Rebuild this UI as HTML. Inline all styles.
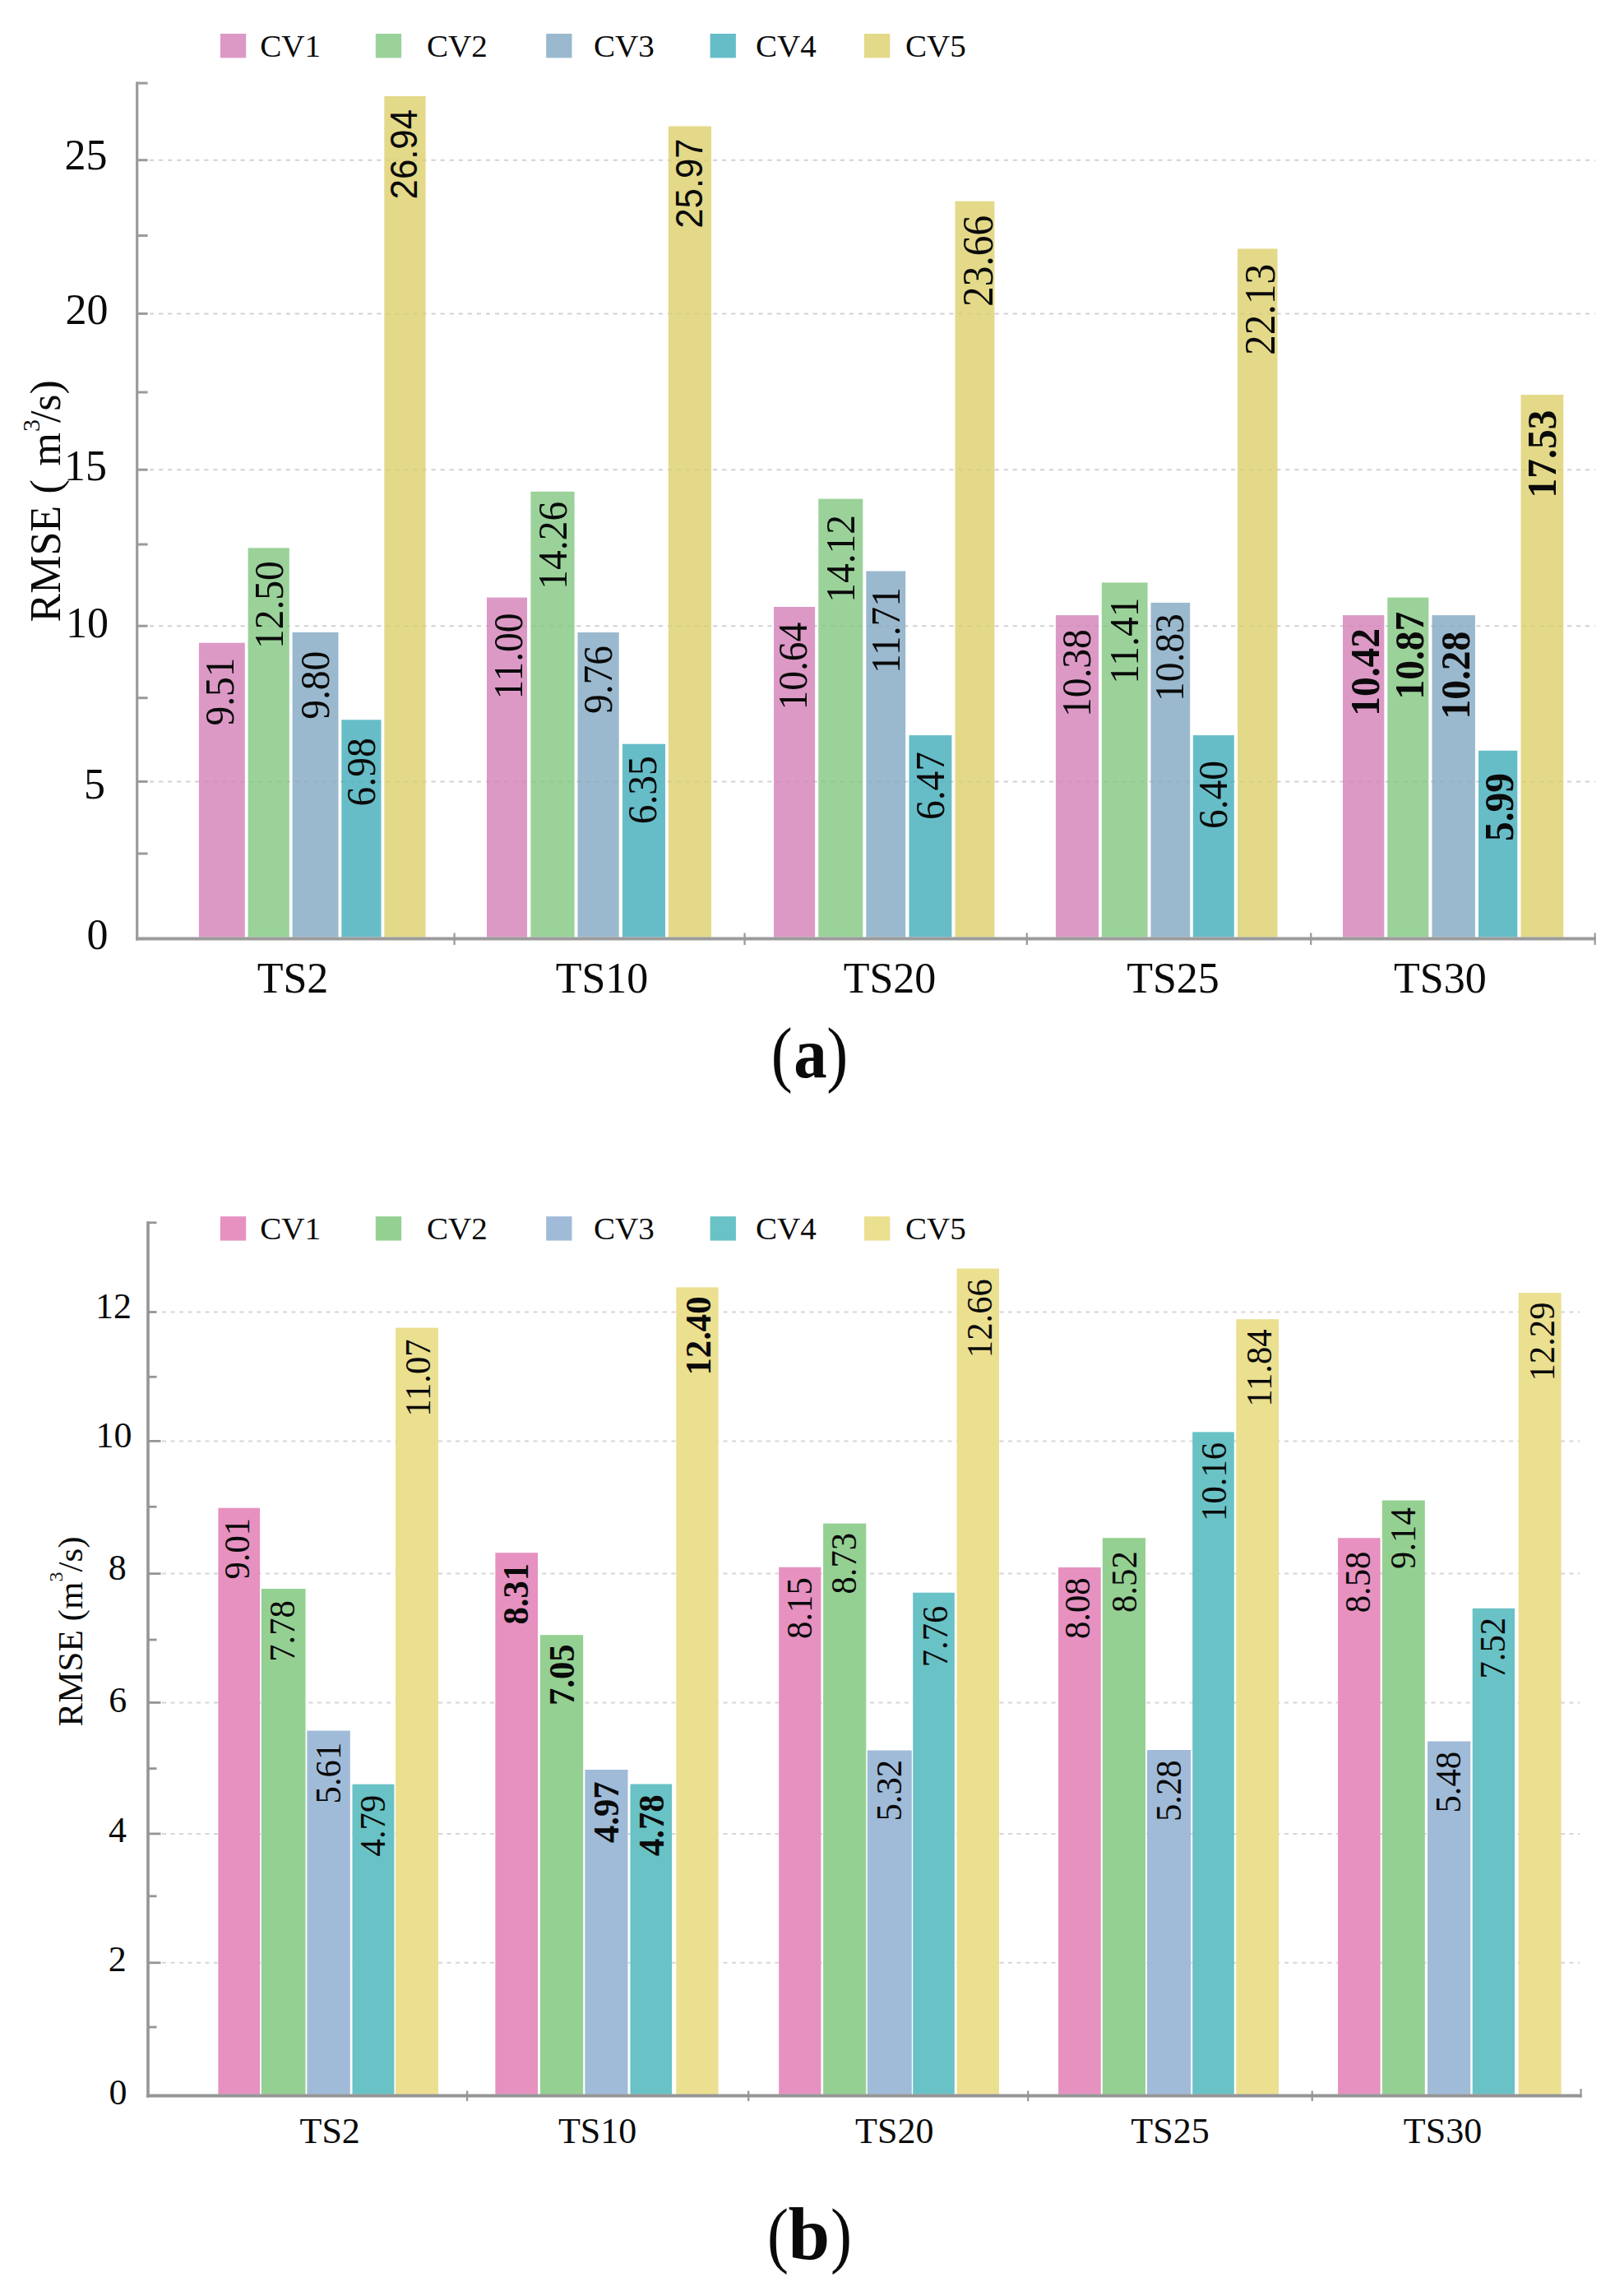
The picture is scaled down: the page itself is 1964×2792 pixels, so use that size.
<!DOCTYPE html>
<html lang="en"><head><meta charset="utf-8"><title>RMSE by cross-validation fold and time step</title>
<style>html,body{margin:0;padding:0;background:#fff}body{width:1964px;height:2792px;overflow:hidden}svg{display:block}text{font-family:"Liberation Serif", "Times New Roman", serif;fill:#0a0a0a}text.sans{font-family:"Liberation Sans", Arial, sans-serif}</style>
</head><body>
<svg width="1964" height="2792" viewBox="0 0 1964 2792">
<rect width="1964" height="2792" fill="#ffffff"/>
<g id="chart-a">
<g stroke="#dcdcdc" stroke-width="2" stroke-dasharray="5.2 5.85" fill="none">
<path d="M182 194.7 H1940"/>
<path d="M182 381.4 H1940"/>
<path d="M182 571.2 H1940"/>
<path d="M182 761.2 H1940"/>
<path d="M182 950.4 H1940"/>
</g>
<g>
<rect x="241.9" y="781.7" width="55.9" height="357.9" fill="#dc99c6"/>
<rect x="301.6" y="666.3" width="50.2" height="473.3" fill="#9bd29a"/>
<rect x="355.6" y="768.9" width="55.9" height="370.7" fill="#9ab9ce"/>
<rect x="415.3" y="875.3" width="48.2" height="264.3" fill="#66bdc8"/>
<rect x="467.3" y="117" width="50.3" height="1022.6" fill="#e3d989"/>
<rect x="592" y="726.6" width="49" height="413" fill="#dc99c6"/>
<rect x="645.4" y="597.8" width="53.2" height="541.8" fill="#9bd29a"/>
<rect x="702.5" y="769" width="50.2" height="370.6" fill="#9ab9ce"/>
<rect x="757" y="904.7" width="52" height="234.9" fill="#66bdc8"/>
<rect x="812.9" y="153.5" width="52.1" height="986.1" fill="#e3d989"/>
<rect x="941" y="738" width="50.1" height="401.6" fill="#dc99c6"/>
<rect x="995.3" y="606.6" width="54" height="533" fill="#9bd29a"/>
<rect x="1053.3" y="694.5" width="47.9" height="445.1" fill="#9ab9ce"/>
<rect x="1105.5" y="894.1" width="51.9" height="245.5" fill="#66bdc8"/>
<rect x="1161.5" y="244.7" width="47.9" height="894.9" fill="#e3d989"/>
<rect x="1283.9" y="748.1" width="52.1" height="391.5" fill="#dc99c6"/>
<rect x="1339.8" y="708.4" width="55.8" height="431.2" fill="#9bd29a"/>
<rect x="1399.5" y="732.9" width="47.7" height="406.7" fill="#9ab9ce"/>
<rect x="1450.8" y="894.1" width="50" height="245.5" fill="#66bdc8"/>
<rect x="1505" y="302.5" width="48.5" height="837.1" fill="#e3d989"/>
<rect x="1633" y="748.1" width="50.3" height="391.5" fill="#dc99c6"/>
<rect x="1687.3" y="726.6" width="50" height="413" fill="#9bd29a"/>
<rect x="1741.5" y="748.1" width="52.4" height="391.5" fill="#9ab9ce"/>
<rect x="1798" y="912.8" width="47.3" height="226.8" fill="#66bdc8"/>
<rect x="1849.5" y="480" width="51.8" height="659.6" fill="#e3d989"/>
</g>
<g stroke="#000" stroke-opacity="0.045" stroke-width="2" stroke-dasharray="5.2 5.85" fill="none">
<path d="M182 194.7 H1940"/>
<path d="M182 381.4 H1940"/>
<path d="M182 571.2 H1940"/>
<path d="M182 761.2 H1940"/>
<path d="M182 950.4 H1940"/>
</g>
<g stroke="#9b9b9b" fill="none">
<path d="M166.7 99.6 V1143.4" stroke-width="3.2"/>
<path d="M165.1 1141.4 H1941" stroke-width="4"/>
<g stroke-width="3">
<path d="M166 101.1 H179.6"/>
<path d="M166 194.7 H179.6"/>
<path d="M166 286.5 H179.6"/>
<path d="M166 381.4 H179.6"/>
<path d="M166 477 H179.6"/>
<path d="M166 571.2 H179.6"/>
<path d="M166 662 H179.6"/>
<path d="M166 761.2 H179.6"/>
<path d="M166 848.7 H179.6"/>
<path d="M166 950.4 H179.6"/>
<path d="M166 1038 H179.6"/>
</g>
<g stroke-width="2.3">
<path d="M552.6 1134.5 V1149"/>
<path d="M905.6 1134.5 V1149"/>
<path d="M1248.8 1134.5 V1149"/>
<path d="M1594.2 1134.5 V1149"/>
<path d="M1939.6 1134.5 V1149"/>
</g>
</g>
<g font-size="52" text-anchor="end">
<text x="130.5" y="206.3">25</text>
<text x="131.5" y="393.7">20</text>
<text x="130" y="583.7">15</text>
<text x="132" y="775">10</text>
<text x="128" y="970.5">5</text>
<text x="131.5" y="1153.5">0</text>
</g>
<text transform="translate(73.2 756.5) rotate(-90)" font-size="52">RMSE <tspan dx="1.5">(</tspan><tspan dx="3.5"> m</tspan><tspan font-size="30" dy="-25.6" dx="1">3</tspan><tspan dy="25.6" dx="-4">/s)</tspan></text>
<g font-size="52" text-anchor="middle">
<text x="356" y="1206.8">TS2</text>
<text x="732" y="1206.8">TS10</text>
<text x="1082" y="1206.8">TS20</text>
<text x="1426.5" y="1206.8">TS25</text>
<text x="1751.3" y="1206.8">TS30</text>
</g>
<g font-size="37.6">
<rect x="267.9" y="41" width="31.3" height="29.4" fill="#dc99c6"/>
<text transform="translate(316.3 69.2) scale(1.04 1)">CV1</text>
<rect x="456.8" y="41" width="31.3" height="29.4" fill="#9bd29a"/>
<text transform="translate(519 69.2) scale(1.04 1)">CV2</text>
<rect x="664.2" y="41" width="31.3" height="29.4" fill="#9ab9ce"/>
<text transform="translate(722 69.2) scale(1.04 1)">CV3</text>
<rect x="863.6" y="41" width="31.3" height="29.4" fill="#66bdc8"/>
<text transform="translate(919 69.2) scale(1.04 1)">CV4</text>
<rect x="1051" y="41" width="31.3" height="29.4" fill="#e3d989"/>
<text transform="translate(1101 69.2) scale(1.04 1)">CV5</text>
</g>
<g>
<text transform="translate(284.45 882.5) rotate(-90) scale(0.9500 1)" font-size="50">9.51</text>
<text transform="translate(343.65 789) rotate(-90) scale(0.9500 1)" font-size="50">12.50</text>
<text transform="translate(400.05 874.8) rotate(-90) scale(0.9500 1)" font-size="50">9.80</text>
<text transform="translate(456.1 980.4) rotate(-90) scale(0.9500 1)" font-size="50">6.98</text>
<text transform="translate(507.38 242.4) rotate(-90) scale(0.9300 1)" font-size="47" class="sans">26.94</text>
<text transform="translate(635.4 850.5) rotate(-90) scale(0.9500 1)" font-size="50">11.00</text>
<text transform="translate(689.45 716.7) rotate(-90) scale(0.9500 1)" font-size="50">14.26</text>
<text transform="translate(743.7 868.1) rotate(-90) scale(0.9500 1)" font-size="50">9.76</text>
<text transform="translate(797.9 1002.3) rotate(-90) scale(0.9500 1)" font-size="50">6.35</text>
<text transform="translate(853.88 277.7) rotate(-90) scale(0.9300 1)" font-size="47" class="sans">25.97</text>
<text transform="translate(981.3 863.6) rotate(-90) scale(0.9500 1)" font-size="50">10.64</text>
<text transform="translate(1038.8 732.8) rotate(-90) scale(0.9500 1)" font-size="50">14.12</text>
<text transform="translate(1094.15 819) rotate(-90) scale(0.9500 1)" font-size="50">11.71</text>
<text transform="translate(1147.75 997.1) rotate(-90) scale(0.9500 1)" font-size="50">6.47</text>
<text transform="translate(1206.63 373) rotate(-90) scale(0.9500 1)" font-size="52">23.66</text>
<text transform="translate(1326.25 872) rotate(-90) scale(0.9500 1)" font-size="50">10.38</text>
<text transform="translate(1384 831.7) rotate(-90) scale(0.9500 1)" font-size="50">11.41</text>
<text transform="translate(1439.45 853) rotate(-90) scale(0.9500 1)" font-size="50">10.83</text>
<text transform="translate(1492.3 1008) rotate(-90) scale(0.9500 1)" font-size="50">6.40</text>
<text transform="translate(1550.23 431.9) rotate(-90) scale(0.9500 1)" font-size="52">22.13</text>
<text transform="translate(1676.65 870.8) rotate(-90) scale(0.9500 1)" font-size="50" font-weight="bold">10.42</text>
<text transform="translate(1730.9 850.6) rotate(-90) scale(0.9500 1)" font-size="50" font-weight="bold">10.87</text>
<text transform="translate(1786.8 874.6) rotate(-90) scale(0.9500 1)" font-size="50" font-weight="bold">10.28</text>
<text transform="translate(1839.7 1023) rotate(-90) scale(0.9500 1)" font-size="50" font-weight="bold">5.99</text>
<text transform="translate(1892.1 605.4) rotate(-90) scale(0.9500 1)" font-size="50" font-weight="bold">17.53</text>
</g>
<text transform="translate(950.8 1310.6) scale(0.887 1)" font-size="88" text-anchor="middle">(</text>
<text transform="translate(985.6 1310.2) scale(0.920 1)" font-size="88" text-anchor="middle" font-weight="bold">a</text>
<text transform="translate(1018.3 1310.6) scale(0.887 1)" font-size="88" text-anchor="middle">)</text>
</g>
<g id="chart-b">
<g stroke="#d6d6d6" stroke-width="2" stroke-dasharray="5 5.5" fill="none">
<path d="M197 1595.5 H1921"/>
<path d="M197 1752.4 H1921"/>
<path d="M197 1913.6 H1921"/>
<path d="M197 2070.4 H1921"/>
<path d="M197 2229.9 H1921"/>
<path d="M197 2386.8 H1921"/>
</g>
<g>
<rect x="265.4" y="1833.7" width="50.7" height="713.1" fill="#e691c0"/>
<rect x="317.8" y="1932" width="53.7" height="614.8" fill="#95d093"/>
<rect x="373.4" y="2104.6" width="52.4" height="442.2" fill="#a0bbd8"/>
<rect x="428.5" y="2169.7" width="50.9" height="377.1" fill="#69c2c5"/>
<rect x="481" y="1614.6" width="52" height="932.2" fill="#ebdf90"/>
<rect x="602.4" y="1888.2" width="51.6" height="658.6" fill="#e691c0"/>
<rect x="656.9" y="1988.2" width="52.3" height="558.6" fill="#95d093"/>
<rect x="711.4" y="2152" width="52.1" height="394.8" fill="#a0bbd8"/>
<rect x="766.5" y="2169.5" width="50.6" height="377.3" fill="#69c2c5"/>
<rect x="822.3" y="1565.4" width="51.3" height="981.4" fill="#ebdf90"/>
<rect x="947.2" y="1905.7" width="51.2" height="641.1" fill="#e691c0"/>
<rect x="1001.1" y="1852.6" width="52.2" height="694.2" fill="#95d093"/>
<rect x="1054.8" y="2128.5" width="54" height="418.3" fill="#a0bbd8"/>
<rect x="1110.2" y="1936.7" width="50.6" height="610.1" fill="#69c2c5"/>
<rect x="1163.6" y="1542.6" width="51.4" height="1004.2" fill="#ebdf90"/>
<rect x="1287.1" y="1906" width="51.6" height="640.8" fill="#e691c0"/>
<rect x="1340.8" y="1870.2" width="52.2" height="676.6" fill="#95d093"/>
<rect x="1395" y="2128" width="53.2" height="418.8" fill="#a0bbd8"/>
<rect x="1450.2" y="1741.4" width="50.6" height="805.4" fill="#69c2c5"/>
<rect x="1503.3" y="1604.2" width="51.7" height="942.6" fill="#ebdf90"/>
<rect x="1627.1" y="1870.2" width="51.5" height="676.6" fill="#e691c0"/>
<rect x="1680.8" y="1824.5" width="52" height="722.3" fill="#95d093"/>
<rect x="1736" y="2117.5" width="52.2" height="429.3" fill="#a0bbd8"/>
<rect x="1790.7" y="1955.8" width="51.3" height="591" fill="#69c2c5"/>
<rect x="1846.7" y="1572.1" width="51.9" height="974.7" fill="#ebdf90"/>
</g>
<g stroke="#959595" fill="none">
<path d="M180 1485.3 V2550.6" stroke-width="3.6"/>
<path d="M178.2 2548.6 H1923.6" stroke-width="4"/>
<g stroke-width="2.8">
<path d="M180 1595.5 H190.5"/>
<path d="M180 1752.4 H195.5"/>
<path d="M180 1913.6 H195.5"/>
<path d="M180 2070.4 H195.5"/>
<path d="M180 2229.9 H195.5"/>
<path d="M180 2386.8 H195.5"/>
<path d="M180 1486.8 H190.5"/>
<path d="M180 1674.3 H190.5"/>
<path d="M180 1832.3 H190.5"/>
<path d="M180 1994 H190.5"/>
<path d="M180 2150.6 H190.5"/>
<path d="M180 2305.8 H190.5"/>
<path d="M180 2465 H190.5"/>
</g>
<g stroke-width="2.2">
<path d="M568.1 2542.5 V2555"/>
<path d="M910.2 2542.5 V2555"/>
<path d="M1250.2 2542.5 V2555"/>
<path d="M1595.7 2542.5 V2555"/>
<path d="M1922.5 2540 V2550.6"/>
</g>
</g>
<g font-size="44" text-anchor="middle">
<text x="138" y="1603">12</text>
<text x="138.4" y="1760">10</text>
<text x="142.8" y="1920.8">8</text>
<text x="143.3" y="2081.8">6</text>
<text x="142.9" y="2239.9">4</text>
<text x="142.8" y="2397">2</text>
<text x="143.5" y="2558.6">0</text>
</g>
<text transform="translate(99.8 2099.5) rotate(-90)" font-size="43.1">RMSE (m<tspan font-size="24" dy="-23.5">3</tspan><tspan dy="23.5">/s)</tspan></text>
<g font-size="44" text-anchor="middle">
<text x="401.2" y="2606.2">TS2</text>
<text x="726.6" y="2606.2">TS10</text>
<text x="1087.8" y="2606.2">TS20</text>
<text x="1423" y="2606.2">TS25</text>
<text x="1754.5" y="2606.2">TS30</text>
</g>
<g font-size="37.6">
<rect x="267.9" y="1479.2" width="31.3" height="29.4" fill="#e691c0"/>
<text transform="translate(316.3 1507.4) scale(1.04 1)">CV1</text>
<rect x="456.8" y="1479.2" width="31.3" height="29.4" fill="#95d093"/>
<text transform="translate(519 1507.4) scale(1.04 1)">CV2</text>
<rect x="664.2" y="1479.2" width="31.3" height="29.4" fill="#a0bbd8"/>
<text transform="translate(722 1507.4) scale(1.04 1)">CV3</text>
<rect x="863.6" y="1479.2" width="31.3" height="29.4" fill="#69c2c5"/>
<text transform="translate(919 1507.4) scale(1.04 1)">CV4</text>
<rect x="1051" y="1479.2" width="31.3" height="29.4" fill="#ebdf90"/>
<text transform="translate(1101 1507.4) scale(1.04 1)">CV5</text>
</g>
<g>
<text transform="translate(303.22 1920.5) rotate(-90) scale(0.9700 1)" font-size="44">9.01</text>
<text transform="translate(357.67 2020.8) rotate(-90) scale(0.9700 1)" font-size="44">7.78</text>
<text transform="translate(413.67 2193.4) rotate(-90) scale(0.9700 1)" font-size="44">5.61</text>
<text transform="translate(468.22 2257.4) rotate(-90) scale(0.9700 1)" font-size="44">4.79</text>
<text transform="translate(522.97 1722.8) rotate(-90) scale(0.9700 1)" font-size="44">11.07</text>
<text transform="translate(641.97 1975.6) rotate(-90) scale(0.9700 1)" font-size="44" font-weight="bold">8.31</text>
<text transform="translate(697.52 2074.1) rotate(-90) scale(0.9700 1)" font-size="44" font-weight="bold">7.05</text>
<text transform="translate(752.32 2241) rotate(-90) scale(0.9700 1)" font-size="44" font-weight="bold">4.97</text>
<text transform="translate(807.27 2257) rotate(-90) scale(0.9700 1)" font-size="44" font-weight="bold">4.78</text>
<text transform="translate(864.07 1672.5) rotate(-90) scale(0.9700 1)" font-size="44" font-weight="bold">12.40</text>
<text transform="translate(986.87 1992.9) rotate(-90) scale(0.9700 1)" font-size="44">8.15</text>
<text transform="translate(1041.47 1938.5) rotate(-90) scale(0.9700 1)" font-size="44">8.73</text>
<text transform="translate(1096.27 2214.5) rotate(-90) scale(0.9700 1)" font-size="44">5.32</text>
<text transform="translate(1152.07 2027.3) rotate(-90) scale(0.9700 1)" font-size="44">7.76</text>
<text transform="translate(1206.12 1651.2) rotate(-90) scale(0.9700 1)" font-size="44">12.66</text>
<text transform="translate(1325.07 1993) rotate(-90) scale(0.9700 1)" font-size="44">8.08</text>
<text transform="translate(1381.57 1960.9) rotate(-90) scale(0.9700 1)" font-size="44">8.52</text>
<text transform="translate(1435.67 2215) rotate(-90) scale(0.9700 1)" font-size="44">5.28</text>
<text transform="translate(1491.22 1849.9) rotate(-90) scale(0.9700 1)" font-size="44">10.16</text>
<text transform="translate(1546.37 1710.8) rotate(-90) scale(0.9700 1)" font-size="44">11.84</text>
<text transform="translate(1665.92 1961.3) rotate(-90) scale(0.9700 1)" font-size="44">8.58</text>
<text transform="translate(1720.97 1907.9) rotate(-90) scale(0.9700 1)" font-size="44">9.14</text>
<text transform="translate(1776.17 2204.5) rotate(-90) scale(0.9700 1)" font-size="44">5.48</text>
<text transform="translate(1830.37 2041.6) rotate(-90) scale(0.9700 1)" font-size="44">7.52</text>
<text transform="translate(1890.47 1679.5) rotate(-90) scale(0.9700 1)" font-size="44">12.29</text>
</g>
<text transform="translate(946 2747.4) scale(0.887 1)" font-size="88" text-anchor="middle">(</text>
<text transform="translate(983.8 2747.4) scale(0.990 1)" font-size="92" text-anchor="middle" font-weight="bold">b</text>
<text transform="translate(1023 2747.4) scale(0.887 1)" font-size="88" text-anchor="middle">)</text>
</g>
</svg>
</body></html>
